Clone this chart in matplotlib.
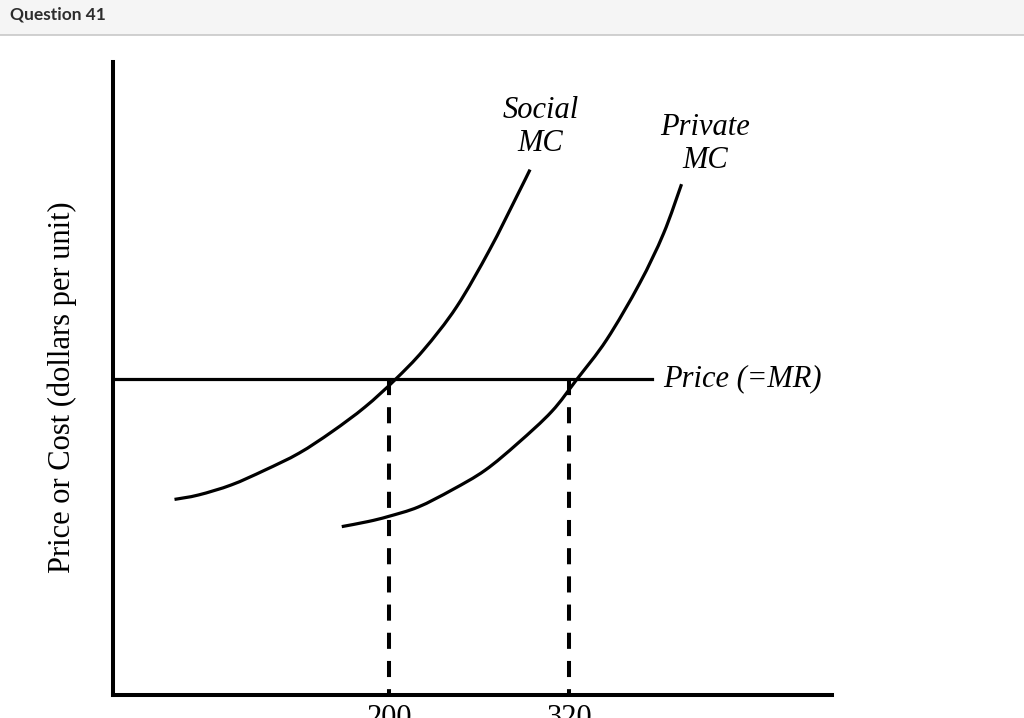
import matplotlib
matplotlib.use("Agg")
from matplotlib import pyplot
from matplotlib.patches import Rectangle, PathPatch
from matplotlib.path import Path
from matplotlib.lines import Line2D

# quantity / price points
social_q = [57, 73, 95, 117, 140, 162, 184, 204, 223, 245, 267, 285, 294]
social_p = [3.09, 3.16, 3.32, 3.55, 3.82, 4.16, 4.55, 4.98, 5.45, 6.13, 7.03, 7.87, 8.30]

private_q = [168.5, 186, 199.5, 219.5, 242, 264, 286, 308.5, 325, 345, 367, 383, 395]
private_p = [2.66, 2.74, 2.82, 2.97, 3.24, 3.55, 3.98, 4.48, 4.98, 5.61, 6.50, 7.29, 8.07]

price = 5.0
price_end_q = 375
q_marks = [200, 320]
q_labels = ["200", "320"]


def smooth_curve(xs, ys):
    # bezier path through the points (catmull-rom handles)
    pts = list(zip(xs, ys))
    verts = [pts[0]]
    codes = [Path.MOVETO]
    n = len(pts)
    for i in range(n - 1):
        p0 = pts[i - 1] if i > 0 else pts[i]
        p1, p2 = pts[i], pts[i + 1]
        p3 = pts[i + 2] if i + 2 < n else pts[i + 1]
        c1 = (p1[0] + (p2[0] - p0[0]) / 6, p1[1] + (p2[1] - p0[1]) / 6)
        c2 = (p2[0] - (p3[0] - p1[0]) / 6, p2[1] - (p3[1] - p1[1]) / 6)
        verts += [c1, c2, p2]
        codes += [Path.CURVE4] * 3
    return Path(verts, codes)


W, H = 1024, 718
fig = pyplot.figure(figsize=(W / 100, H / 100), dpi=100)

# page header strip
fig.patches.append(Rectangle((0, 1 - 35 / H), 1, 35 / H, transform=fig.transFigure,
                             facecolor="#f5f5f5", edgecolor="none", zorder=0))
fig.add_artist(Line2D([0, 1], [1 - 35 / H, 1 - 35 / H], transform=fig.transFigure,
                      color="#c8c8c8", lw=1.2))
fig.text(10 / W, 1 - 14 / H, "Question 41", fontsize=12.5, family="Lato",
         fontweight="bold", color="#2d2d2d", va="center", ha="left")

ax = fig.add_axes([113 / W, 23 / H, (832 - 113) / W, (695 - 62) / H])
ax.set_xlim(16, 495.3)
ax.set_ylim(0, 10)
for s in ["top", "right"]:
    ax.spines[s].set_visible(False)
for s in ["left", "bottom"]:
    ax.spines[s].set_linewidth(2.9)
    ax.spines[s].set_capstyle("projecting")
ax.set_xticks([])
ax.set_yticks([])
ax.patch.set_alpha(0)

serif = "Liberation Serif"
for qs, ps in [(social_q, social_p), (private_q, private_p)]:
    ax.add_patch(PathPatch(smooth_curve(qs, ps), facecolor="none",
                           edgecolor="black", lw=2.3, capstyle="butt"))
ax.plot([16, price_end_q], [price, price], color="black", lw=2.3)
for q in q_marks:
    ax.plot([q, q], [price, 0], color="black", lw=2.9, dashes=(4, 3))
for q, lab in zip(q_marks, q_labels):
    ax.text(q, -0.15, lab, ha="center", va="top", fontsize=22, family=serif,
            clip_on=False)

ax.text(383, price, "Price (=MR)", ha="left", va="center", fontsize=22,
        family=serif, style="italic")
ax.text(301, 8.98, "Social\nMC", ha="center", va="center", fontsize=22,
        family=serif, style="italic", linespacing=1.18)
ax.text(411, 8.70, "Private\nMC", ha="center", va="center", fontsize=22,
        family=serif, style="italic", linespacing=1.18)

fig.text(62 / W, 1 - 387 / H, "Price or Cost (dollars per unit)", rotation=90,
         ha="center", va="center", fontsize=22, family=serif)

pyplot.savefig("out.png", dpi=100)
